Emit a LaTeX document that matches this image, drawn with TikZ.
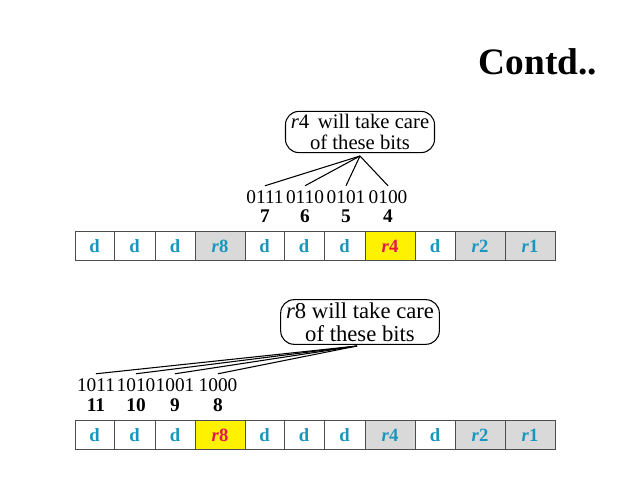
\documentclass[tikz,border=0pt]{standalone}
\usepackage{fontspec}
\setmainfont{Liberation Serif}
\begin{document}
\begin{tikzpicture}[x=0.75pt,y=-0.75pt,
  cell/.style={draw=black!70,line width=0.6pt,minimum height=21.5pt,inner sep=0pt,font=\fontsize{14}{14}\selectfont\bfseries,text=dcol},
  gcell/.style={cell,fill=black!15},
  ycell/.style={cell,fill=yellow,text=rcol},
  call/.style={draw,rounded corners=10pt,line width=0.8pt,align=center,font=\fontsize{15.5}{16}\selectfont,inner xsep=4pt,inner ysep=2pt},
  bits/.style={font=\fontsize{14.5}{14}\selectfont},
  num/.style={font=\fontsize{14.5}{14}\selectfont\bfseries},
  ln/.style={line width=0.8pt}]
\definecolor{dcol}{RGB}{25,150,190}
\definecolor{rcol}{RGB}{230,20,80}
\useasboundingbox (0,0) rectangle (638,478);
\node[font=\fontsize{28}{28}\selectfont\bfseries] (t) at (538,62) {Contd..};
\def\xs{{75,114,155,195,245,284,324,365,415,455,505,555}}
\foreach \r/\y/\a/\b in {A/246/ycell/gcell,B/435/gcell/ycell}{
\foreach \i/\s/\t in {0/cell/d,1/cell/d,2/cell/d,3/\b/\textit{r}8,4/cell/d,5/cell/d,6/cell/d,7/\a/\textit{r}4,8/cell/d,9/gcell/\textit{r}2,10/gcell/\textit{r}1}{
  \pgfmathsetmacro\xl{\xs[\i]}\pgfmathsetmacro\xr{\xs[\i+1]}
  \node[\s,minimum width={(\xr-\xl)*0.75pt}] (\r\i) at ({(\xl+\xr)/2},\y) {\t};
}}
% top
\node[call] (c1) at (360,132) {\textit{r}4\, will take care\\of these bits};
\coordinate (p1) at (360,156);
\foreach \x/\bs/\n [count=\k] in {265/0111/7,305/0110/6,346/0101/5,388/0100/4}{
  \node[bits] (tb\k) at (\x,197) {\bs};
  \node[num] (tn\k) at (\x,216) {\n};
  \draw[ln] (p1) -- (tb\k.north);
}
% bottom
\node[call,font=\fontsize{17}{17.5}\selectfont] (c2) at (360,322) {\textit{r}8 will take care\\of these bits};
\coordinate (p2) at (357,346);
\foreach \x/\bs/\n [count=\k] in {96/1011/11,136/1010/10,175/1001/9,218/1000/8}{
  \node[bits] (bb\k) at (\x,385) {\bs};
  \node[num] (bn\k) at (\x,405) {\n};
  \draw[ln] (p2) -- (bb\k.north);
}
\end{tikzpicture}
\end{document}
